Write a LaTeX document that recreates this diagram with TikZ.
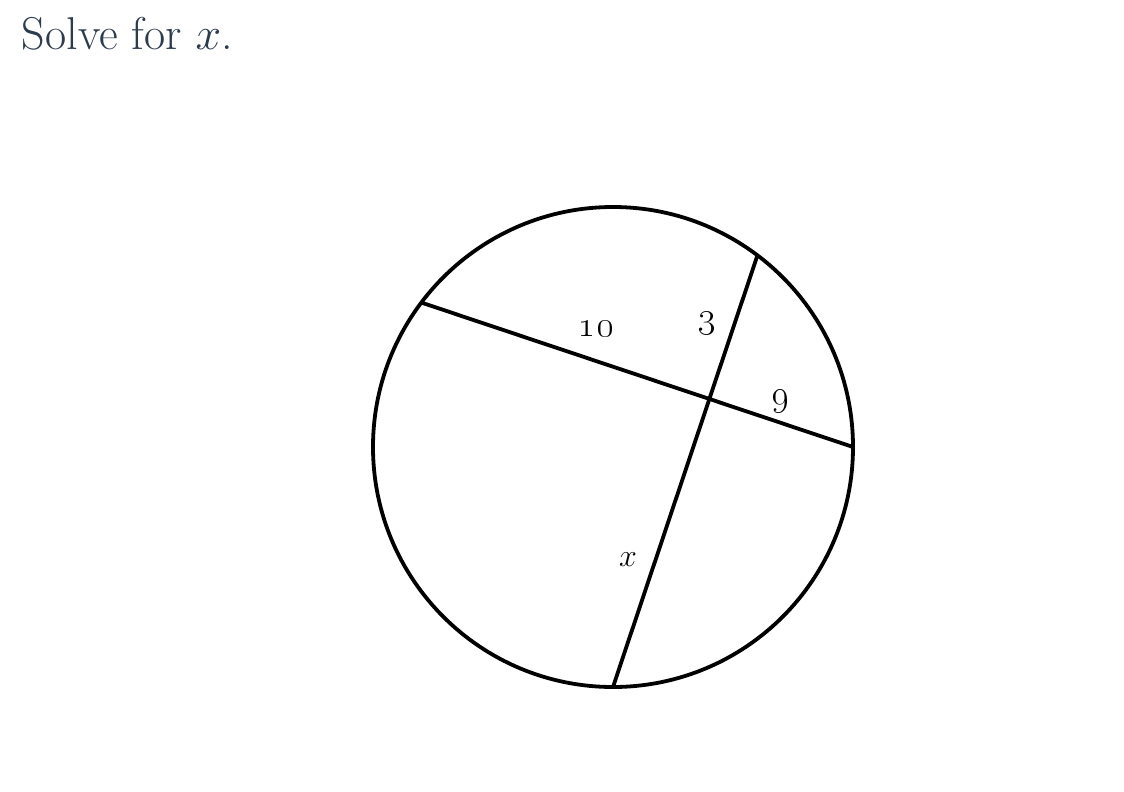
\RequirePackage{fix-cm}
\documentclass[tikz,border=0pt]{standalone}
\usepackage{xcolor}
\usepackage{amsmath}
\usepackage{tikz}
\usetikzlibrary{calc}

\definecolor{titleink}{HTML}{2D3B4E}

\begin{document}
\begin{tikzpicture}[x=1pt, y=1pt, line width=3.8pt,
    lbl/.style={font=\fontsize{37}{42}\selectfont}]
        \useasboundingbox (0,0) rectangle (1124,-792);
        \node[anchor=base west, text=titleink, inner sep=0pt, font=\fontsize{46}{52}\selectfont] (title) at (20,-50) {Solve for $x$.};
        \coordinate (O) at (613,-447);
        \draw (O) circle (240);
        \foreach \n/\a in {A/143, B/0, C/53, D/270}{
            \coordinate (\n) at ($(O)+(\a:240)$);
        }
        \coordinate (P) at (intersection of A--B and C--D);
        \path[draw] (A) -- (B);
        \path[draw] (C) -- (D);
        \node[lbl] (ten) at (596,-329) {\oldstylenums{10}};
        \node[lbl] (three) at (707,-323) {\oldstylenums{3}};
        \node[lbl] (nine) at (780,-401) {\oldstylenums{9}};
        \node[lbl, font=\fontsize{32}{36}\selectfont] (ex) at (628,-560) {$x$};
    \end{tikzpicture}
\end{document}
